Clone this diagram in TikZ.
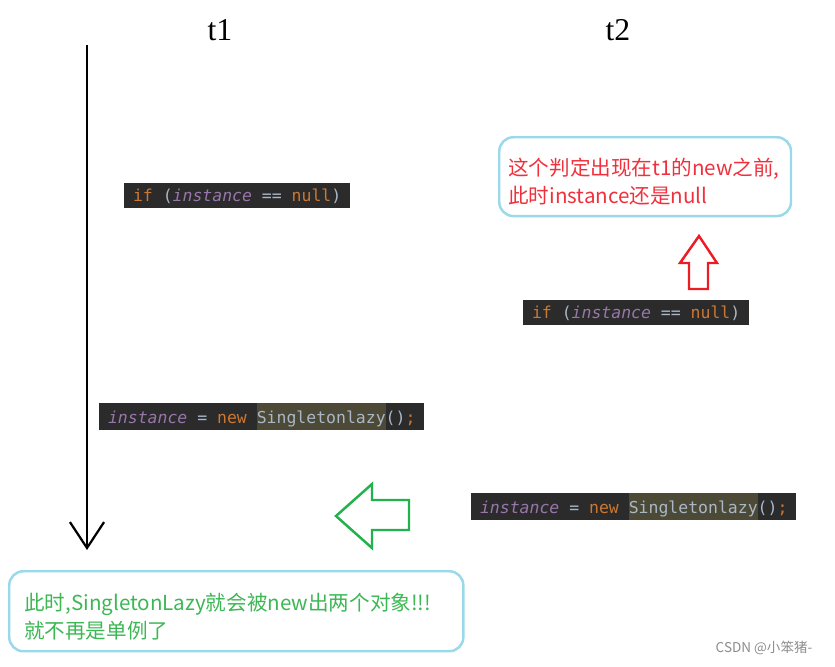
\documentclass[tikz,border=0pt]{standalone}
\usepackage{fontspec}
\setmainfont{Liberation Serif}
\newfontfamily\cjk{Noto Sans CJK SC}
\newfontfamily\codefont{DejaVu Sans Mono}
\usetikzlibrary{arrows.meta, positioning}
\definecolor{codebg}{HTML}{2B2B2B}
\definecolor{codetext}{HTML}{A9B7C6}
\definecolor{codekw}{HTML}{CC7832}
\definecolor{codevar}{HTML}{9876AA}
\definecolor{hlbg}{HTML}{4C4A36}
\definecolor{noteblue}{HTML}{99D9EA}
\definecolor{notered}{HTML}{F0303C}
\definecolor{notegreen}{HTML}{3DB754}
\definecolor{arrowred}{HTML}{ED1C24}
\definecolor{arrowgreen}{HTML}{22B14C}
% colours of the code snippets
\newcommand{\ckw}[1]{\textcolor{codekw}{#1}}
\newcommand{\cvar}[1]{\textcolor{codevar}{\itshape #1}}
\newcommand{\hlword}[1]{{\setlength{\fboxsep}{0pt}\colorbox{hlbg}{\rule[-6pt]{0pt}{23pt}#1}}}
\tikzset{
    threadlabel/.style={font=\fontsize{27}{27}\selectfont},
    timeline/.style={line width=1.9pt, -{Straight Barb[length=22pt, width=29pt]}},
    codebox/.style={fill=codebg, text=codetext, anchor=north west, inner xsep=7.5pt, inner ysep=0pt,
        font=\codefont\fontsize{14}{14}\selectfont},
    notebox/.style={draw=noteblue, line width=2.1pt, rounded corners=12pt, anchor=north west, inner sep=0pt},
    notetext/.style={align=left, inner sep=0pt, font=\cjk\fontsize{17.5}{23.8}\selectfont},
    blockarrow/.style={line width=2.1pt, line join=miter},
    wmtext/.style={text=black!45, font=\cjk\fontsize{11.5}{11.5}\selectfont},
}
\begin{document}
\begin{tikzpicture}[x=0.85pt, y=-0.85pt]
    \useasboundingbox (0,0) rectangle (835,666);

    % threads
    \node[threadlabel] (t1) at (220,30) {t1};
    \node[threadlabel] (t2) at (618,30) {t2};
    \coordinate (t1top) at (87,45);
    \coordinate (t1end) at (87,550);
    \draw[timeline] (t1top) -- (t1end);

    % code of t1
    \node[codebox] (if1) at (124,183)
        {\rule[-5.5pt]{0pt}{21.25pt}\ckw{if} (\cvar{instance} == \ckw{null})};
    \node[codebox] (new1) at (99,403)
        {\rule[-6pt]{0pt}{23pt}\cvar{instance} = \ckw{new} \hlword{Singletonlazy}()\ckw{;}};

    % code of t2
    \node[codebox] (if2) at (523,300)
        {\rule[-5.5pt]{0pt}{21.25pt}\ckw{if} (\cvar{instance} == \ckw{null})};
    \node[codebox] (new2) at (471,493)
        {\rule[-6pt]{0pt}{23pt}\cvar{instance} = \ckw{new} \hlword{Singletonlazy}()\ckw{;}};

    % notes
    \node[notebox, minimum width=248pt, minimum height=67pt] (cmpnote) at (498,136) {};
    \node[notetext, text=notered, right=8.5pt of cmpnote.west, yshift=-4pt] (cmptext)
        {这个判定出现在t1的new之前,\\此时instance还是null};
    \node[notebox, minimum width=386pt, minimum height=68pt] (resnote) at (8,570) {};
    \node[notetext, text=notegreen, right=13.6pt of resnote.west, yshift=-5pt] (restext)
        {此时,SingletonLazy就会被new出两个对象!!!\\就不再是单例了};

    % block arrows
    \draw[blockarrow, draw=arrowred] (699,236) -- (717,263) -- (708,263) -- (708,289)
        -- (689,289) -- (689,263) -- (680,263) -- cycle;
    \draw[blockarrow, draw=arrowgreen] (336,516) -- (372,484) -- (372,500) -- (409,500)
        -- (409,530) -- (372,530) -- (372,548) -- cycle;

    \node[wmtext] (wm) at (764,648) {CSDN @小笨猪-};
\end{tikzpicture}
\end{document}
